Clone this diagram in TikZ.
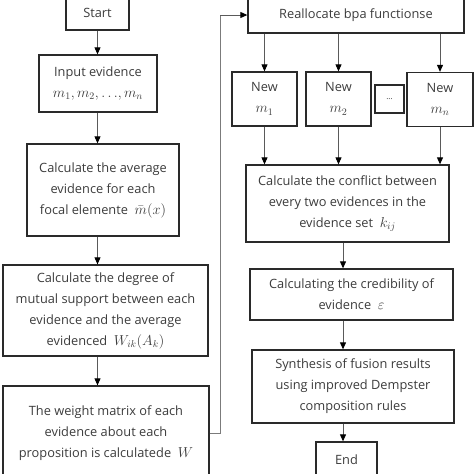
\documentclass[tikz,border=0pt]{standalone}
\usepackage{fontspec}
\setmainfont{Open Sans}
\usetikzlibrary{arrows.meta}
\definecolor{boxc}{HTML}{2A2A2A}
\definecolor{txtc}{HTML}{3C3C3C}
\definecolor{linec}{HTML}{5A5A5A}
\newcommand\mth[1]{{\fontsize{14}{21}\selectfont$#1$}}
\begin{document}
\begin{tikzpicture}[x=1pt,y=-1pt,
  box/.style={draw=boxc,line width=1.3pt,inner sep=0pt,align=center,text=txtc,
    font=\fontsize{12.8}{21}\selectfont},
  arr/.style={draw=linec,line width=0.9pt,-{Triangle[width=6pt,length=7pt,color=black]}},
  fb/.style={draw=linec!80,line width=1pt}]
\fill[white] (0,0) rectangle (474,474);
\useasboundingbox (0,0) rectangle (474,474);
% left column
\node[box,minimum width=63pt,minimum height=34pt] (start) at (97.5,13) {Start};
\node[box,minimum width=118pt,minimum height=57pt] (input) at (98,83.5) {Input evidence\\\mth{m_1,m_2,{\ldots},m_n}};
\node[box,minimum width=152pt,minimum height=92pt] (avg) at (103,190) {Calculate the average\\evidence for each\\focal elemente \ \mth{\bar{m}(x)}};
\node[box,minimum width=205pt,minimum height=91pt] (deg) at (105.5,310.5) {Calculate the degree of\\mutual support between each\\evidence and the average\\evidenced \ \mth{W_{ik}(A_k)}};
\node[box,minimum width=206pt,minimum height=94pt] (weight) at (106,433) {The weight matrix of each\\evidence about each\\proposition is calculatede \ \mth{W}};
% right column
\node[box,minimum width=216pt,minimum height=36pt] (realloc) at (356,15) {Reallocate bpa functionse};
\node[box,minimum width=65pt,minimum height=54pt] (new1) at (264.5,99) {New\\\mth{m_1}};
\node[box,minimum width=65pt,minimum height=54pt] (new2) at (338.5,99) {New\\\mth{m_2}};
\node[box,minimum width=29pt,minimum height=28pt,font=\fontsize{8}{10}\selectfont] (dots) at (389.5,99) {...};
\node[box,minimum width=66pt,minimum height=54pt] (newn) at (440,99.5) {New\\\mth{m_n}};
\node[box,minimum width=203pt,minimum height=77pt] (conf) at (347.5,203.5) {Calculate the conflict between\\every two evidences in the\\evidence set \ \mth{k_{ij}}};
\node[box,minimum width=203pt,minimum height=51pt] (cred) at (351.5,294.5) {Calculating the credibility of\\evidence \ \mth{\varepsilon}};
\node[box,minimum width=202pt,minimum height=73pt] (synth) at (353,386.5) {Synthesis of fusion results\\using improved Dempster\\composition rules};
\node[box,minimum width=61pt,minimum height=36pt] (end) at (346.5,460) {End};
% left arrows
\draw[arr] (start.south) -- (start.south |- input.north);
\draw[arr] (start.south |- input.south) -- (start.south |- avg.north);
\draw[arr] (start.south |- avg.south) -- (start.south |- deg.north);
\draw[arr] (start.south |- deg.south) -- (start.south |- weight.north);
% feedback
\coordinate (fbx) at (220,0);
\draw[fb] (weight.east) -- (weight.east -| fbx) -- (fbx |- realloc.west);
\draw[arr] (fbx |- realloc.west) -- (realloc.west);
% right arrows
\draw[arr] (new1.north |- realloc.south) -- (new1.north);
\draw[arr] (new2.north |- realloc.south) -- (new2.north);
\draw[arr] (newn.north |- realloc.south) -- (newn.north);
\draw[arr] (new1.south) -- (new1.south |- conf.north);
\draw[arr] (new2.south) -- (new2.south |- conf.north);
\draw[arr] (newn.south) -- (newn.south |- conf.north);
\coordinate (rx) at (343,0);
\draw[arr] (rx |- conf.south) -- (rx |- cred.north);
\draw[arr] (rx |- cred.south) -- (rx |- synth.north);
\draw[arr] (rx |- synth.south) -- (rx |- end.north);
\end{tikzpicture}
\end{document}
